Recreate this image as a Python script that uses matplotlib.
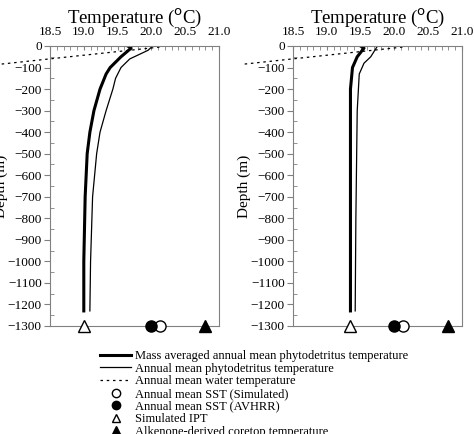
import numpy as np
import matplotlib.pyplot as plt
from matplotlib.ticker import MultipleLocator
from matplotlib.lines import Line2D

plt.rcParams['font.family'] = ['Liberation Serif', 'DejaVu Serif']

# depth profiles (m) and temperatures (deg C)
depth_mass_l = [0, -10, -50, -100, -130, -200, -300, -400, -500, -700, -1000, -1230]
temp_mass_l = [19.65, 19.7, 19.55, 19.39, 19.33, 19.24, 19.15, 19.09, 19.05, 19.02, 19.0, 19.0]
depth_phy_l = [0, -20, -60, -100, -150, -200, -300, -400, -500, -700, -1000, -1230]
temp_phy_l = [20.02, 19.95, 19.68, 19.55, 19.47, 19.43, 19.33, 19.24, 19.19, 19.13, 19.1, 19.09]

depth_mass_r = [0, -10, -50, -100, -200, -500, -1230]
temp_mass_r = [19.5, 19.55, 19.45, 19.38, 19.35, 19.35, 19.35]
depth_phy_r = [0, -50, -80, -130, -300, -800, -1230]
temp_phy_r = [19.75, 19.65, 19.55, 19.48, 19.45, 19.43, 19.42]

depth_water = [-5, -85]
temp_water = [20.12, 17.75]

sst_sim = 20.13
sst_avhrr = 20.0
ipt_l, ipt_r = 19.0, 19.34
alkenone = 20.8

fig = plt.figure(figsize=(4.74, 4.34), dpi=100)
axl = fig.add_axes([50/474, 1-326/434, 169/474, 280/434])
axr = fig.add_axes([293/474, 1-326/434, 169/474, 280/434])

for ax, dm, tm, dp, tp, ipt in [(axl, depth_mass_l, temp_mass_l, depth_phy_l, temp_phy_l, ipt_l),
                                 (axr, depth_mass_r, temp_mass_r, depth_phy_r, temp_phy_r, ipt_r)]:
    ax.plot(tm, dm, color='black', lw=2.2)
    ax.plot(tp, dp, color='black', lw=0.9)
    ax.plot(temp_water, depth_water, color='black', lw=0.9, ls=(0, (2, 3)), clip_on=False)
    ax.plot(sst_sim, -1300, 'o', mfc='white', mec='black', ms=8, clip_on=False, zorder=5)
    ax.plot(sst_avhrr, -1300, 'o', color='black', ms=8, clip_on=False, zorder=6)
    ax.plot(ipt, -1300, '^', mfc='white', mec='black', ms=8, clip_on=False, zorder=5)
    ax.plot(alkenone, -1300, '^', color='black', ms=8, clip_on=False, zorder=5)
    ax.set_xlim(18.5, 21.0)
    ax.set_ylim(-1300, 0)
    ax.xaxis.tick_top()
    ax.xaxis.set_label_position('top')
    ax.set_xticks(np.arange(18.5, 21.01, 0.5))
    ax.set_xticklabels([f'{v:.1f}' for v in np.arange(18.5, 21.01, 0.5)], fontsize=9.5)
    ax.xaxis.set_minor_locator(MultipleLocator(0.1))
    ax.tick_params(axis='x', which='both', direction='in', length=3, color='gray', pad=6)
    ax.yaxis.set_major_locator(MultipleLocator(100))
    ax.yaxis.set_minor_locator(MultipleLocator(50))
    ax.tick_params(axis='y', which='major', direction='out', length=4, color='gray',
                   labelsize=9.5, pad=2)
    ax.tick_params(axis='y', which='minor', direction='in', length=3, color='gray')
    ax.set_xlabel('Temperature ($^{\\mathrm{o}}$C)', fontsize=13.5, labelpad=2)
    ax.set_ylabel('Depth (m)', fontsize=11, labelpad=0)
    for s in ax.spines.values():
        s.set_color('gray')

handles = [
    Line2D([], [], color='black', lw=2.2),
    Line2D([], [], color='black', lw=0.9),
    Line2D([], [], color='black', lw=0.9, ls=(0, (2, 3))),
    Line2D([], [], ls='none', marker='o', mfc='white', mec='black', ms=6),
    Line2D([], [], ls='none', marker='o', color='black', ms=6),
    Line2D([], [], ls='none', marker='^', mfc='white', mec='black', ms=6),
    Line2D([], [], ls='none', marker='^', color='black', ms=6),
]
labels = ['Mass averaged annual mean phytodetritus temperature',
          'Annual mean phytodetritus temperature',
          'Annual mean water temperature',
          'Annual mean SST (Simulated)',
          'Annual mean SST (AVHRR)',
          'Simulated IPT',
          'Alkenone-derived coretop temperature']
fig.legend(handles, labels, loc='upper left', bbox_to_anchor=(100/474, 1-350/434),
           frameon=False, fontsize=9, handlelength=2.5, handletextpad=0.3,
           labelspacing=0.05, borderaxespad=0, borderpad=0)

fig.savefig('out.png', dpi=100)
